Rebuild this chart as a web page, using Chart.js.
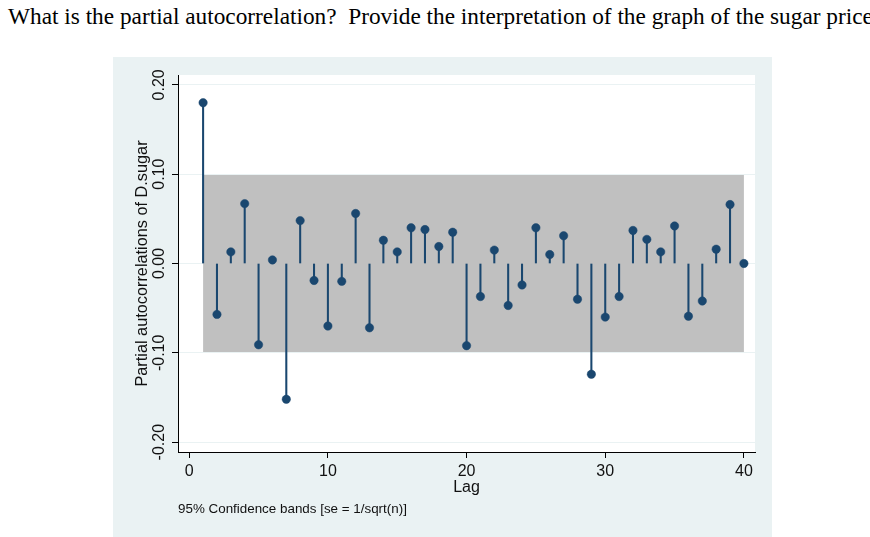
<!DOCTYPE html>
<html>
<head>
<meta charset="utf-8">
<script src="https://cdn.jsdelivr.net/npm/chart.js@4.4.1/dist/chart.umd.min.js"></script>
<style>
  html, body { margin: 0; padding: 0; background: #ffffff; width: 870px; height: 537px; overflow: hidden; }
  #heading {
    position: absolute; left: 8px; top: 5px;
    font-family: "Liberation Serif", "Times New Roman", serif;
    font-size: 23.3px; line-height: 23px; color: #000;
    white-space: pre; margin: 0;
  }
  #panel {
    position: absolute; left: 113px; top: 57px; width: 659px; height: 480px;
    background: #EAF2F3;
  }
  #chart { display: block; }
</style>
</head>
<body>
<div id="heading">What is the partial autocorrelation?  Provide the interpretation of the graph of the sugar price</div>
<div id="panel"><canvas id="chart" width="659" height="480"></canvas></div>
<script>
// ---- data ----
const lags = [1, 2, 3, 4, 5, 6, 7, 8, 9, 10,
              11, 12, 13, 14, 15, 16, 17, 18, 19, 20,
              21, 22, 23, 24, 25, 26, 27, 28, 29, 30,
              31, 32, 33, 34, 35, 36, 37, 38, 39, 40];
const pacValues = [0.180, -0.057, 0.013, 0.067, -0.091, 0.004, -0.152, 0.048, -0.019, -0.070,
                   -0.020, 0.056, -0.072, 0.026, 0.013, 0.040, 0.038, 0.019, 0.035, -0.092,
                   -0.037, 0.015, -0.047, -0.024, 0.040, 0.010, 0.031, -0.040, -0.124, -0.060,
                   -0.037, 0.037, 0.027, 0.013, 0.042, -0.059, -0.042, 0.016, 0.066, 0.000];
const bandLags = [1, 40];
const bandUpper = [0.099, 0.099];
const bandLower = [-0.099, -0.099];
const yTickValues = [-0.2, -0.1, 0, 0.1, 0.2];
const xTickValues = [0, 10, 20, 30, 40];
const yTitle = 'Partial autocorrelations of D.sugar';
const xTitle = 'Lag';
const noteText = '95% Confidence bands [se = 1/sqrt(n)]';

const NAVY = '#1A476F';
const FONT = '"Liberation Sans", Arial, sans-serif';

const stemData = lags.map((l, i) => ({ x: l, y: pacValues[i] }));
const upperData = bandLags.map((l, i) => ({ x: l, y: bandUpper[i] }));
const lowerData = bandLags.map((l, i) => ({ x: l, y: bandLower[i] }));

const plotBg = {
  id: 'plotBg',
  beforeDraw(chart) {
    const { ctx, chartArea: a } = chart;
    ctx.save();
    ctx.fillStyle = '#ffffff';
    ctx.fillRect(a.left, a.top, a.right - a.left, a.bottom - a.top);
    ctx.restore();
  }
};

new Chart(document.getElementById('chart'), {
  type: 'scatter',
  data: {
    datasets: [
      { type: 'line', data: upperData, borderWidth: 0, pointRadius: 0, fill: false, order: 5, borderColor: 'rgba(0,0,0,0)' },
      { type: 'line', data: lowerData, borderWidth: 0, pointRadius: 0, fill: '-1', backgroundColor: '#C0C0C0', order: 4, borderColor: 'rgba(0,0,0,0)' },
      { type: 'bar', data: stemData, backgroundColor: NAVY, borderWidth: 0, barThickness: 1.4, order: 2 },
      { type: 'scatter', data: stemData, backgroundColor: NAVY, borderColor: NAVY, borderWidth: 0.5, pointRadius: 4.2, order: 1 }
    ]
  },
  options: {
    responsive: false,
    animation: false,
    events: [],
    layout: { padding: { top: 18, right: 17, left: 0, bottom: 19.4 } },
    plugins: {
      legend: { display: false },
      tooltip: { enabled: false },
      title: {
        display: true, position: 'bottom', align: 'start', fullSize: false,
        text: noteText, color: '#111',
        font: { family: FONT, size: 13.4, weight: 'normal', lineHeight: 15.6 / 13.4 },
        padding: { top: 0, bottom: 0 }
      }
    },
    scales: {
      x: {
        type: 'linear', min: -0.81, max: 40.8, offset: false,
        afterBuildTicks(axis) { axis.ticks = xTickValues.map(v => ({ value: v })); },
        afterFit(axis) { axis.height = 50; },
        grid: { drawOnChartArea: false, drawTicks: true, tickLength: 6, tickColor: '#000', offset: false },
        border: { display: true, color: '#000', width: 1 },
        ticks: { color: '#111', font: { family: FONT, size: 16 }, padding: 4, maxRotation: 0, minRotation: 0,
                 callback: v => String(v) },
        title: { display: true, text: xTitle, color: '#111', font: { family: FONT, size: 16 }, padding: { top: 0, bottom: 5 } }
      },
      y: {
        type: 'linear', min: -0.211, max: 0.211,
        afterBuildTicks(axis) { axis.ticks = yTickValues.map(v => ({ value: v })); },
        afterFit(axis) { axis.width = 65; },
        grid: { color: '#EAF2F3', lineWidth: 1, drawTicks: true, tickLength: 6, tickColor: '#000' },
        border: { display: true, color: '#000', width: 1 },
        ticks: { color: '#111', font: { family: FONT, size: 16 }, padding: -5.7, minRotation: 90, maxRotation: 90,
                 crossAlign: 'center', callback: v => v.toFixed(2) },
        title: { display: true, text: yTitle, color: '#111', font: { family: FONT, size: 16.3 }, padding: { top: 19.4, bottom: 0 } }
      }
    }
  },
  plugins: [plotBg]
});
</script>
</body>
</html>
